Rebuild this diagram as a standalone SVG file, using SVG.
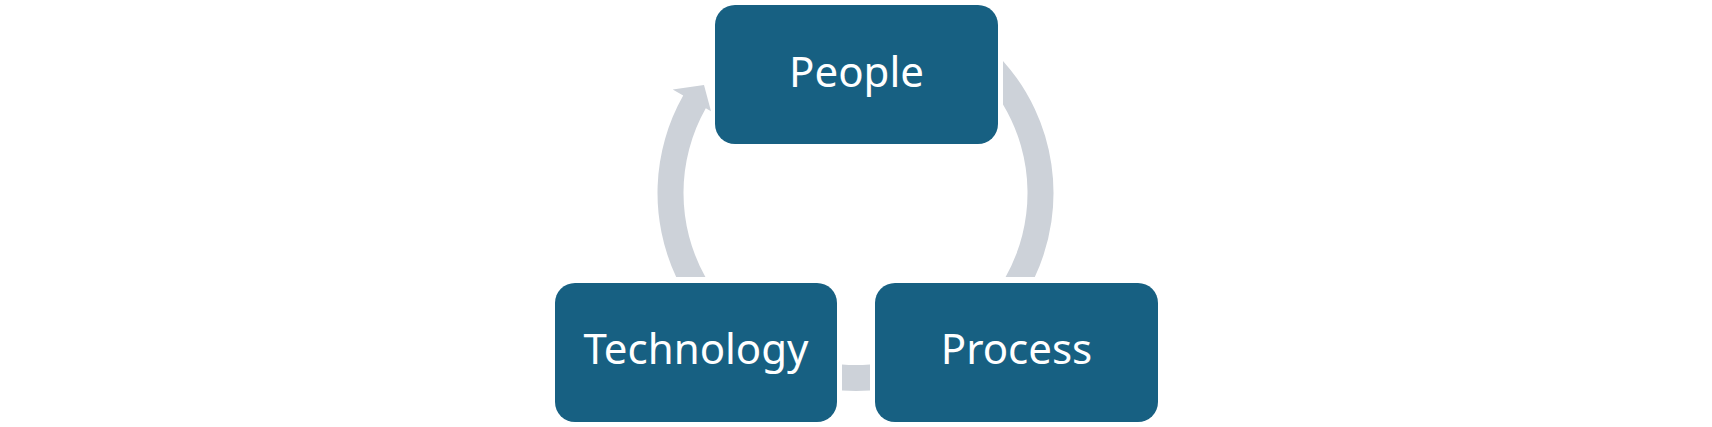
<svg xmlns="http://www.w3.org/2000/svg" width="1712" height="427" viewBox="0 0 1712 427">
<style>
.node rect{fill:#176082}
.node text{fill:#ffffff;font-family:"Noto Sans","Liberation Sans",sans-serif;font-size:42px;text-anchor:middle}
.conn path{fill:#cdd2d9}
</style>
<rect width="1712" height="427" fill="#ffffff"/>
<g id="connectors" class="conn">
<path d="M 676.2 277 A 198 198 0 0 1 683.2 95.5 L 672.7 89.6 L 704 85 L 711 111.3 L 705.8 108.3 A 172 172 0 0 0 705.4 277 Z"/>
<path d="M 1003 60.9 A 198 198 0 0 1 1034.8 277 L 1005.6 277 A 172 172 0 0 0 1003 104.5 Z"/>
<path d="M 870 364.4 A 172 172 0 0 1 842 364.5 L 842 390.5 A 198 198 0 0 0 870 390.5 Z"/>
</g>
<g id="node-people" class="node">
<rect x="715" y="5" width="283" height="139" rx="20"/>
<text x="856.5" y="87">People</text>
</g>
<g id="node-technology" class="node">
<rect x="555" y="283" width="282" height="139" rx="20"/>
<text x="696" y="364">Technology</text>
</g>
<g id="node-process" class="node">
<rect x="875" y="283" width="283" height="139" rx="20"/>
<text x="1016.5" y="364">Process</text>
</g>
</svg>
